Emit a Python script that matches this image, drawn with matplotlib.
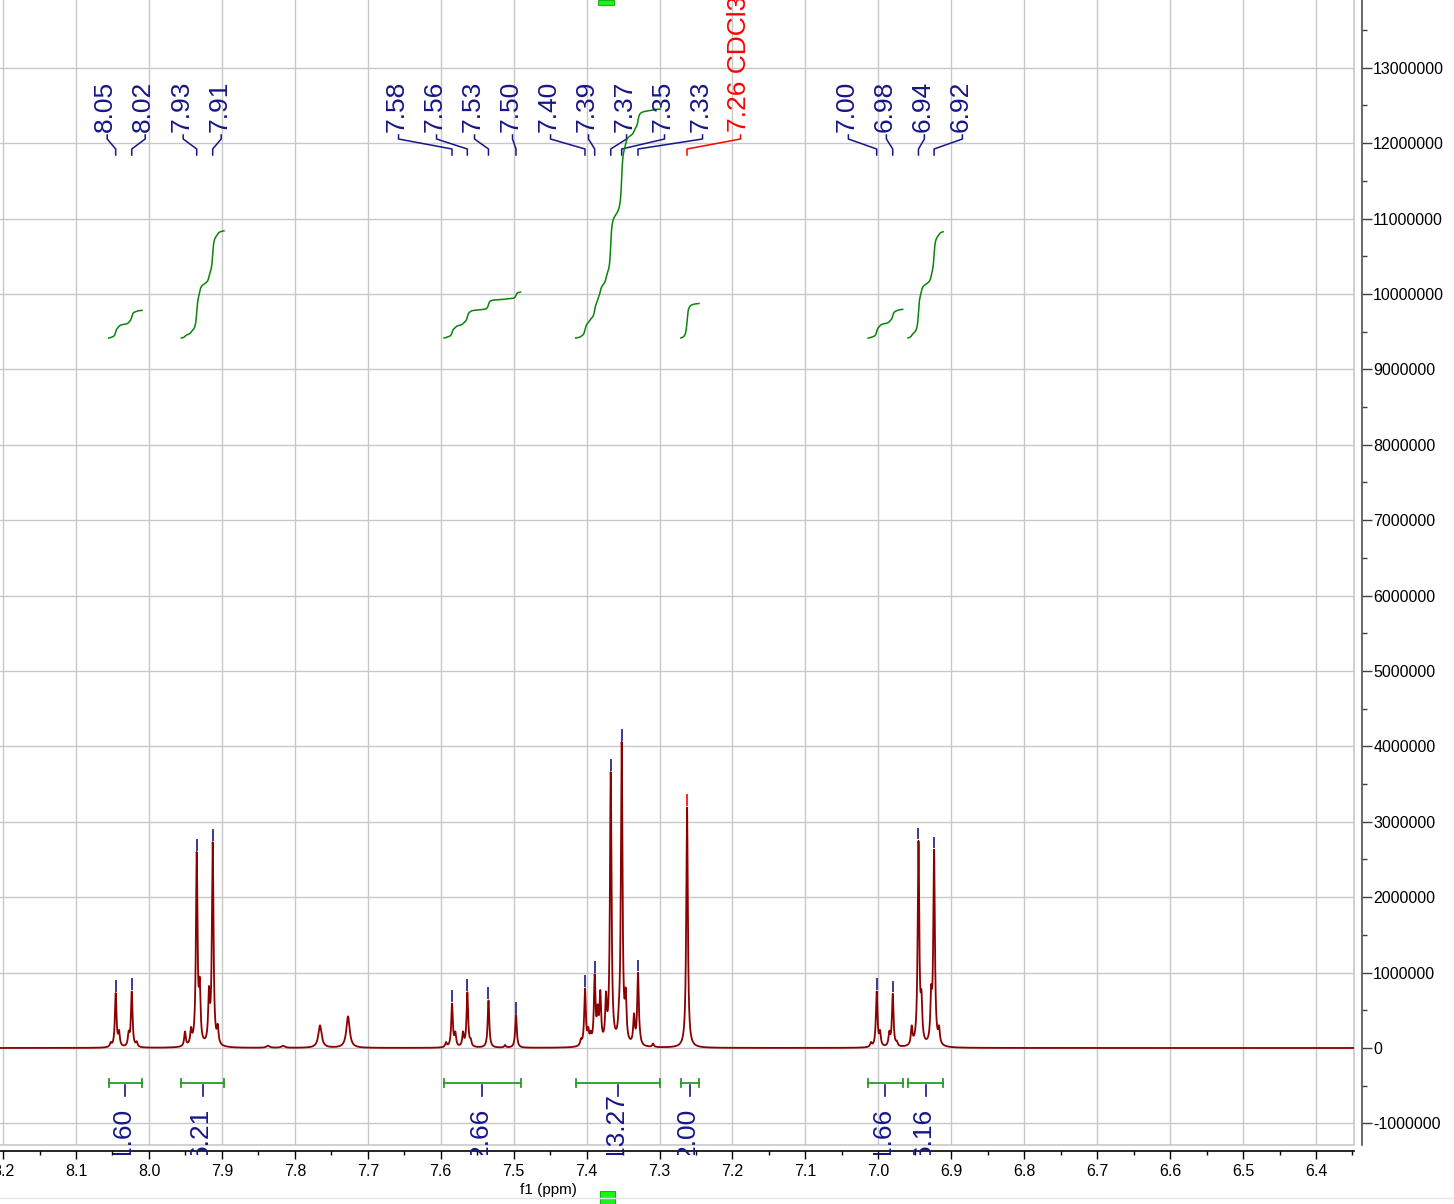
import numpy as np
import matplotlib
matplotlib.use('Agg')
import matplotlib.pyplot as plt
from matplotlib import transforms
from matplotlib.lines import Line2D
from matplotlib.patches import Rectangle
from matplotlib.ticker import MultipleLocator, FuncFormatter

plt.rcParams['font.family'] = ['Liberation Sans', 'DejaVu Sans']

# peak list: position (ppm), height (x1e6)
peak_ppm = [8.0524, 8.0456, 8.0410, 8.0278, 8.0236, 8.0168,
            7.9506, 7.9423, 7.9345, 7.9304, 7.9177, 7.9126, 7.9057,
            7.8368, 7.8162, 7.7655, 7.7271,
            7.5927, 7.5845, 7.5800, 7.5694, 7.5635, 7.5589, 7.5345, 7.5118, 7.4968,
            7.4077, 7.4022, 7.3977, 7.3944, 7.3889, 7.3848, 7.3812, 7.3734,
            7.3669, 7.3556, 7.3519, 7.3464, 7.3350, 7.3295, 7.3268, 7.3089,
            7.2623,
            7.0101, 7.0023, 6.9977, 6.9850, 6.9803, 6.9748,
            6.9543, 6.9450, 6.9409, 6.9276, 6.9236, 6.9168]
peak_height = [0.08, 0.73, 0.24, 0.23, 0.75, 0.09,
               0.22, 0.28, 2.60, 0.94, 0.82, 2.73, 0.32,
               0.03, 0.03, 0.30, 0.42,
               0.08, 0.59, 0.22, 0.22, 0.74, 0.13, 0.63, 0.04, 0.44,
               0.13, 0.79, 0.28, 0.23, 0.98, 0.58, 0.77, 0.75,
               3.66, 0.64, 4.06, 0.80, 0.46, 1.00, 0.24, 0.06,
               3.19,
               0.08, 0.75, 0.24, 0.23, 0.72, 0.10,
               0.30, 2.75, 0.77, 0.84, 2.63, 0.30]
broad_peaks = [7.8368, 7.8162, 7.7655, 7.7271]

# picked peaks (labels on top)
label_ppm = [8.0456, 8.0236, 7.9345, 7.9126,
             7.5845, 7.5635, 7.5345, 7.4968, 7.4022, 7.3889, 7.3669, 7.3519, 7.3295, 7.2623,
             7.0023, 6.9803, 6.9450, 6.9236]
label_text = ['8.05', '8.02', '7.93', '7.91',
              '7.58', '7.56', '7.53', '7.50', '7.40', '7.39', '7.37', '7.35', '7.33', '7.26 CDCl3',
              '7.00', '6.98', '6.94', '6.92']
solvent_label = '7.26 CDCl3'

# integral regions
int_from = [8.0553, 7.9556, 7.5955, 7.4150, 7.2707, 7.0140, 6.9594]
int_to = [8.0094, 7.8972, 7.4905, 7.2990, 7.2459, 6.9666, 6.9112]
int_value = [1.60, 6.21, 2.66, 13.27, 2.00, 1.66, 6.16]

# colours
NAVY = '#16168a'
SPEC = '#8b0000'
GRID = '#c8c8c8'
GREEN = '#0a840a'

W, H = 1454, 1204
AX_W, AX_H = 1354, 1145
XMIN, XMAX = 8.2042, 6.3479
YMIN, YMAX = -1.2865e6, 13.899e6


def lorentz(d, w):
    return 1.0 / (1.0 + (2.0 * d / w) ** 2)


pk = np.array(peak_ppm)
hk = np.array(peak_height) * 1e6
wk = np.where(np.isin(pk, broad_peaks), 0.0055, 0.0026)

# solve for amplitudes so that the summed curve hits the read heights
A = lorentz(pk[:, None] - pk[None, :], wk[None, :])
amp = np.clip(np.linalg.solve(A, hk), 0, None)


def spectrum(x):
    x = np.atleast_1d(x)
    return (amp[None, :] * lorentz(x[:, None] - pk[None, :], wk[None, :])).sum(axis=1)


ppm = np.linspace(XMIN, XMAX, 24000)
spec = spectrum(ppm)

fig = plt.figure(figsize=(W / 100, H / 100), dpi=100)
ax = fig.add_axes([0, 1 - AX_H / H, AX_W / W, AX_H / H])
ax.set_xlim(XMIN, XMAX)
ax.set_ylim(YMIN, YMAX)

ax.plot(ppm, spec, color=SPEC, lw=1.3, zorder=3)

# axes styling
for s in ['top', 'left']:
    ax.spines[s].set_visible(False)
ax.spines['right'].set_position(('outward', 5.8))
ax.spines['right'].set_color('#505050')
ax.spines['right'].set_linewidth(1.2)
ax.spines['bottom'].set_position(('outward', 4.3))
ax.spines['bottom'].set_color('black')
ax.spines['bottom'].set_linewidth(1.2)
ax.yaxis.tick_right()
ax.xaxis.set_major_locator(MultipleLocator(0.1))
ax.xaxis.set_minor_locator(MultipleLocator(0.05))
ax.yaxis.set_major_locator(MultipleLocator(1e6))
ax.yaxis.set_minor_locator(MultipleLocator(5e5))
ax.xaxis.set_major_formatter(FuncFormatter(lambda v, _: f'{v:.1f}'))
ax.yaxis.set_major_formatter(FuncFormatter(lambda v, _: f'{v:.0f}'))
ax.tick_params(axis='x', which='major', length=5.5, width=1, labelsize=11.5, pad=4)
ax.tick_params(axis='x', which='minor', length=2.8, width=1)
ax.tick_params(axis='y', which='major', length=7, width=1, labelsize=11.5, pad=1,
               color='#404040', labelcolor='black')
ax.tick_params(axis='y', which='minor', length=3.6, width=1, color='#404040')
ax.grid(True, which='major', color=GRID, lw=1.0)
ax.set_axisbelow(True)
ax.plot([0, 1, 1], [0, 0, 1], transform=ax.transAxes, color=GRID, lw=1.2, clip_on=False)

fig.text(548 / W, 1 - 1190 / H, 'f1 (ppm)', ha='center', va='center', fontsize=11)

bt = transforms.blended_transform_factory(ax.transData, ax.transAxes)
px_ppm = (XMIN - XMAX) / AX_W


def fy(y):
    return 1 - y / AX_H


# peak labels spread in groups
order = np.argsort(-np.array(label_ppm))
groups, cur = [], [order[0]]
for i in order[1:]:
    if (label_ppm[cur[-1]] - label_ppm[i]) / px_ppm < 80:
        cur.append(i)
    else:
        groups.append(cur)
        cur = [i]
groups.append(cur)

step = 38 * px_ppm
for g in groups:
    mid = (label_ppm[g[0]] + label_ppm[g[-1]]) / 2
    n = len(g)
    for k, i in enumerate(g):
        lx = mid - (k - (n - 1) / 2) * step
        p = label_ppm[i]
        col = 'red' if label_text[i] == solvent_label else NAVY
        ax.text(lx + 2 * px_ppm, fy(132), label_text[i], rotation=90, ha='center', va='bottom',
                transform=bt, fontsize=19, color=col, clip_on=False)
        ax.plot([lx, lx, p, p], [fy(135), fy(139), fy(149), fy(155)], transform=bt,
                color=col, lw=1.1, clip_on=False)
        h = spectrum(p)[0]
        ax.plot([p, p], [h + 0.03e6, h + 0.16e6], color=col, lw=1.4, alpha=0.85, zorder=4)

# integrals
clipbox = transforms.TransformedBbox(
    transforms.Bbox.from_extents(0, fy(1155), 1, 1), ax.transAxes)
unit = 17.25 / AX_H
for a, b, v in zip(int_from, int_to, int_value):
    ax.plot([a, b], [fy(1083), fy(1083)], transform=bt, color='#2a9a2a', lw=1.3, clip_on=False)
    for e in (a, b):
        ax.plot([e, e], [fy(1079), fy(1087)], transform=bt, color='#2a9a2a', lw=1.3, clip_on=False)
    c = (a + b) / 2
    ax.plot([c, c], [fy(1085), fy(1096)], transform=bt, color=NAVY, lw=1.2, clip_on=False)
    t = ax.text(c + 2 * px_ppm, fy(1159), f'{v:.2f}', rotation=90, ha='center', va='bottom',
                transform=bt, fontsize=19, color=NAVY, zorder=5)
    t.set_clip_path(None)
    t.set_clip_box(clipbox)
    t.set_clip_on(True)
    m = (ppm <= a) & (ppm >= b)
    cum = np.cumsum(spec[m])
    cum = cum / cum[-1]
    ax.plot(ppm[m], fy(338) + cum * v * unit, transform=bt, color=GREEN, lw=1.1)

# handles and frame line
fig.patches.append(Rectangle((598 / W, 1 - 5 / H), 16 / W, 5 / H, transform=fig.transFigure,
                             facecolor='#22ee22', edgecolor='#11bb11', lw=0.8))
fig.patches.append(Rectangle((600 / W, 0), 15 / W, 13 / H, transform=fig.transFigure,
                             facecolor='#22ee22', edgecolor='#11bb11', lw=0.8))
fig.add_artist(Line2D([0, 1], [1 - 1198 / H] * 2, color='#e4e4e4', lw=1))

fig.savefig('out.png', dpi=100)
